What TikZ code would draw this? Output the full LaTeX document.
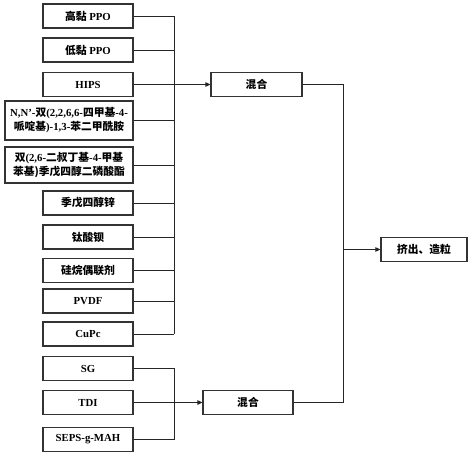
\documentclass[tikz,border=0pt]{standalone}
\usepackage{fontspec}
\setmainfont{Liberation Serif}
\newfontfamily\cjk{Noto Sans CJK SC}
\usetikzlibrary{arrows.meta}
\newcommand\zh[1]{{\cjk #1}}
\tikzset{
  box/.style={draw=black!80, line width=1.1bp, inner sep=0pt, minimum height=24bp, font=\fontsize{10.8}{13}\selectfont\bfseries, align=center},
  conn/.style={draw=black!85, line width=0.8bp},
  arr/.style={conn, -{Triangle[length=5bp,width=4.5bp]}}
}
\begin{document}
\begin{tikzpicture}[x=1bp,y=-1bp]
\useasboundingbox (0,0) rectangle (474,455);
% left column
\node[box, minimum width=90bp] (a1) at (88,16) {\zh{高黏} PPO};
\node[box, minimum width=90bp] (a2) at (88,50) {\zh{低黏} PPO};
\node[box, minimum width=90bp] (a3) at (88,84.5) {HIPS};
\node[box, minimum width=128bp, minimum height=39bp] (a4) at (69,120.5) {N,N'-\zh{双}(2,2,6,6-\zh{四甲基}-4-\\[1bp]\zh{哌啶基})-1,3-\zh{苯二甲酰胺}};
\node[box, minimum width=128bp, minimum height=36bp] (a5) at (69,165) {\zh{双}(2,6-\zh{二叔丁基}-4-\zh{甲基}\\[1bp]\zh{苯基)季戊四醇二磷酸酯}};
\node[box, minimum width=90bp] (a6) at (88,203) {\zh{季戊四醇锌}};
\node[box, minimum width=90bp] (a7) at (88,237) {\zh{钛酸钡}};
\node[box, minimum width=90bp] (a8) at (88,270.5) {\zh{硅烷偶联剂}};
\node[box, minimum width=90bp] (a9) at (88,301) {PVDF};
\node[box, minimum width=90bp] (a10) at (88,334) {CuPc};
\node[box, minimum width=90bp] (b1) at (88,368.5) {SG};
\node[box, minimum width=90bp] (b2) at (88,402.5) {TDI};
\node[box, minimum width=90bp] (b3) at (88,439.5) {SEPS-g-MAH};
% mixing and output
\node[box, minimum width=91bp] (m1) at (256.5,84.5) {\zh{混合}};
\node[box, minimum width=90bp] (m2) at (248,402.5) {\zh{混合}};
\node[box, minimum width=86bp] (out) at (424,249.5) {\zh{挤出、造粒}};
\coordinate (busA) at (174,0);
\coordinate (busC) at (343,0);
% first bus
\foreach \n in {a1,a2,a4,a5,a6,a7,a8,a9,a10}{
  \draw[conn] (\n.east) -- (\n.east -| busA);
}
\draw[conn] (a1.east -| busA) -- (a10.east -| busA);
\draw[arr] (a3.east) -- (m1.west);
% second bus
\draw[conn] (b1.east) -- (b1.east -| busA) -- (b3.east -| busA) -- (b3.east);
\draw[arr] (b2.east) -- (m2.west);
% right bus
\draw[conn] (m1.east) -- (m1.east -| busC) -- (m2.east -| busC) -- (m2.east);
\draw[arr] (out.west -| busC) -- (out.west);
\end{tikzpicture}
\end{document}
